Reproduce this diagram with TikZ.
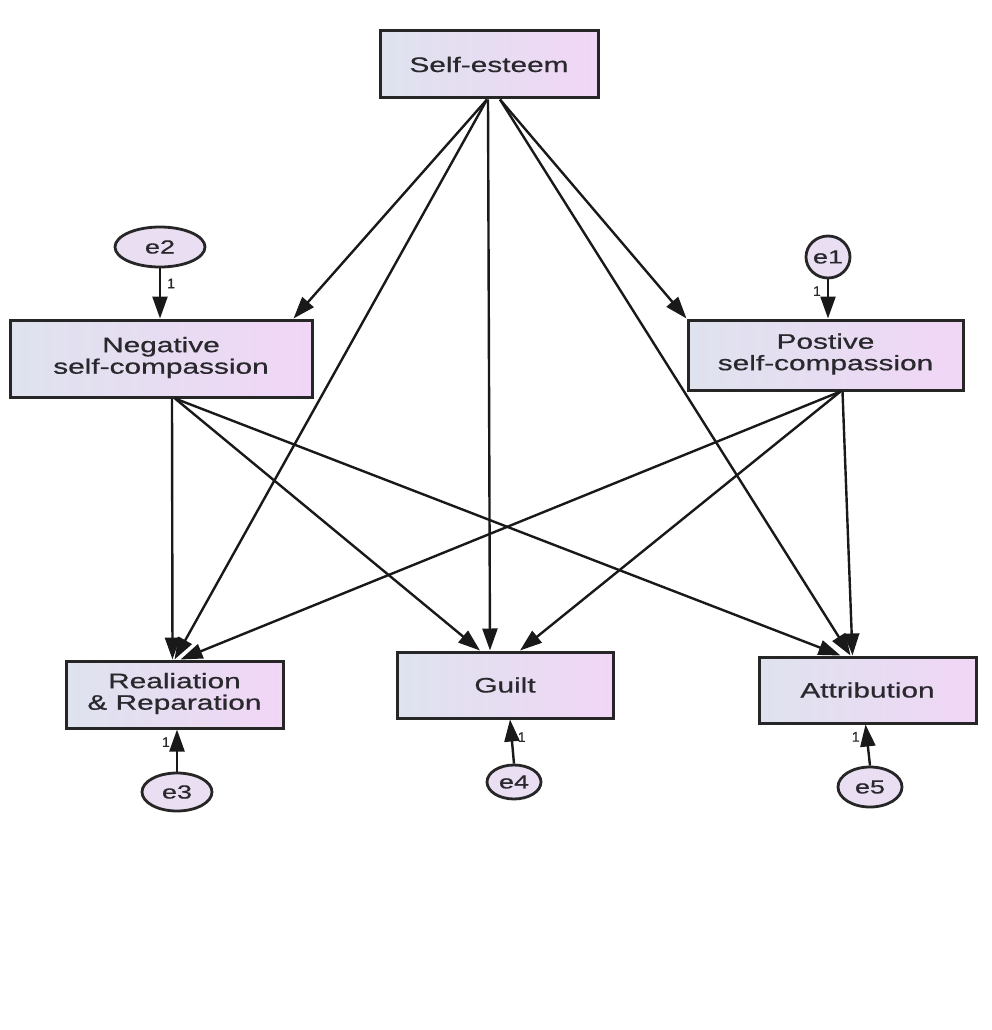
\documentclass[tikz,border=0pt]{standalone}
\usepackage{fontspec}
\usepackage{graphicx}
\setmainfont{Liberation Sans}
\newfontfamily\labfont{Liberation Sans}[FakeBold=0.5]
\usetikzlibrary{arrows.meta,shapes.geometric}
\newcommand\wt[1]{\scalebox{1.42}[1]{#1}}
\newcommand\wtt[2]{\scalebox{1.42}[1]{\begin{tabular}{@{}c@{}}#1\\#2\end{tabular}}}
\definecolor{boxleft}{RGB}{222,227,238}
\definecolor{boxright}{RGB}{241,214,246}
\definecolor{ellfill}{RGB}{234,222,242}
\definecolor{txt}{RGB}{40,40,45}
\begin{document}
\begin{tikzpicture}[x=1pt,y=-1pt,
  varbox/.style={rectangle,draw=black!85,line width=3pt,left color=boxleft,right color=boxright,
    inner sep=0pt,text=txt,font=\labfont\fontsize{21}{21}\selectfont},
  errell/.style={ellipse,draw=black!85,line width=2.8pt,fill=ellfill,inner sep=0pt,
    text=txt,font=\labfont\fontsize{19}{19}\selectfont},
  path/.style={line width=2.4pt,draw=black!90,-{Triangle[length=22pt,width=15pt]}},
  one/.style={font=\labfont\fontsize{14}{14}\selectfont,text=txt,inner sep=0pt}]
\useasboundingbox[fill=white] (0,0) rectangle (992,1030);

\node[varbox,minimum width=218pt,minimum height=67pt] (se) at (489,64.5) {\wt{Self-esteem}};
\node[varbox,minimum width=302pt,minimum height=77pt] (neg) at (161,358.5) {\wtt{Negative}{self-compassion}};
\node[varbox,minimum width=275pt,minimum height=70pt] (pos) at (825.5,355) {\wtt{Postive}{self-compassion}};
\node[varbox,minimum width=217pt,minimum height=67pt] (rr) at (174.5,694.5) {\wtt{Realiation}{\& Reparation}};
\node[varbox,minimum width=216pt,minimum height=66pt] (guilt) at (505,685) {\wt{Guilt}};
\node[varbox,minimum width=217pt,minimum height=66pt] (attr) at (867.5,690) {\wt{Attribution}};

\node[errell,minimum width=90pt,minimum height=40pt] (e2) at (160,247) {\wt{e2}};
\node[errell,minimum width=44pt,minimum height=42pt] (e1) at (828,257) {\wt{e1}};
\node[errell,minimum width=70pt,minimum height=38pt] (e3) at (177,792) {\wt{e3}};
\node[errell,minimum width=54pt,minimum height=34pt] (e4) at (514,782) {\wt{e4}};
\node[errell,minimum width=64pt,minimum height=40pt] (e5) at (870,787) {\wt{e5}};

% Self-esteem paths
\draw[path] ([xshift=-2pt]se.south) -- ([xshift=-20pt]neg.north east);
\draw[path] ([xshift=-2pt]se.south) -- (rr.north);
\draw[path] ([xshift=-1pt]se.south) -- ([xshift=-15pt]guilt.north);
\draw[path] ([xshift=11pt]se.south) -- (pos.north west);
\draw[path] ([xshift=11pt]se.south) -- ([xshift=-17pt]attr.north);

% Negative self-compassion paths
\draw[path] ([xshift=11pt]neg.south) -- ([xshift=-2pt]rr.north);
\draw[path] ([xshift=14pt]neg.south) -- ([xshift=-25pt]guilt.north);
\draw[path] ([xshift=14pt]neg.south) -- ([xshift=-27pt]attr.north);

% Positive self-compassion paths
\draw[path] ([xshift=15pt]pos.south) -- ([xshift=6pt]rr.north);
\draw[path] ([xshift=15pt]pos.south) -- ([xshift=15pt]guilt.north);
\draw[path] ([xshift=17pt]pos.south) -- ([xshift=-15pt]attr.north);

% error terms
\draw[path] (e2.south) -- (e2.south |- neg.north) node[one,pos=0.3,right=6pt] {1};
\draw[path] (e1.south) -- (e1.south |- pos.north) node[one,pos=0.3,left=6pt] {1};
\draw[path] (e3.north) -- (e3.north |- rr.south) node[one,pos=0.7,left=6pt] {1};
\draw[path] (e4.north) -- ([xshift=5pt]guilt.south) node[one,pos=0.6,right=5pt] {1};
\draw[path] (e5.north) -- ([xshift=-2pt]attr.south) node[one,pos=0.7,left=6pt] {1};
\end{tikzpicture}
\end{document}
